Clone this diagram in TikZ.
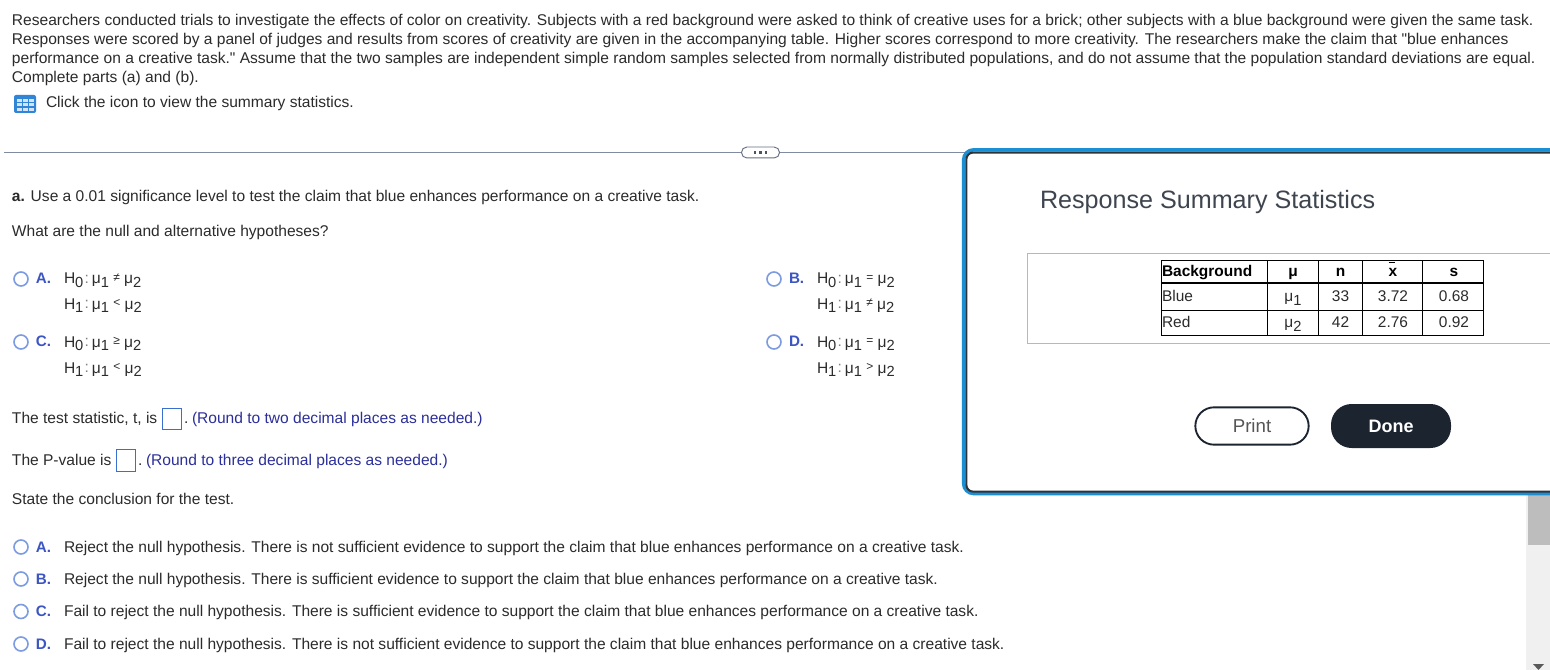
\documentclass[tikz,border=0pt]{standalone}
\usepackage{fontspec}
\setmainfont{Liberation Sans}
\newfontfamily\plainf{Liberation Sans}
\definecolor{bodytxt}{HTML}{2B2B2B}
\definecolor{navytxt}{HTML}{2B2F9A}
\definecolor{optblue}{HTML}{3C55C2}
\definecolor{radio}{HTML}{7C9BE0}
\definecolor{boxblue}{HTML}{3A6FD0}
\definecolor{sep}{HTML}{808AA0}
\definecolor{dlgblue}{HTML}{1C8FD2}
\definecolor{dlgdark}{HTML}{2F3338}
\definecolor{btn}{HTML}{1C2430}
\newcommand{\sbs}[1]{\raisebox{-2.6pt}{\fontsize{11}{12}\selectfont #1}}
\newcommand{\relsym}[1]{\hspace{3.2pt}\raisebox{2pt}{\fontsize{9}{10}\selectfont #1}\hspace{3.2pt}}
\newcommand{\hyp}[2]{H\sbs{#1}\hspace{1pt}{\color{gray}\raisebox{0.1ex}{:}}\hspace{2.2pt}μ\sbs{1}\relsym{#2}μ\sbs{2}}
\tikzset{
  x=0.75pt,y=-0.75pt,
  txt/.style={anchor=base west,inner sep=0pt,outer sep=0pt,text=bodytxt,font=\fontsize{11.67}{13}\selectfont},
  navy/.style={txt,text=navytxt},
  opt/.style={txt,text=optblue,font=\fontsize{11.4}{13}\selectfont\bfseries},
  radiobtn/.style={circle,draw=radio,line width=1.2pt,minimum size=10.5pt,inner sep=0pt,fill=white},
  ansbox/.style={draw=boxblue,line width=0.7pt,fill=white,minimum width=14.5pt,minimum height=16pt,inner sep=0pt},
  tab/.style={txt,anchor=base,font=\fontsize{11.6}{13}\selectfont},
  tabh/.style={tab,font=\fontsize{11.6}{13}\selectfont\bfseries,text=black},
  tabl/.style={line width=0.75pt,draw=black},
}
\begin{document}
\begin{tikzpicture}
\useasboundingbox (0,0) rectangle (1550,670);
\clip (0,0) rectangle (1550,670);
\fill[white] (0,0) rectangle (1550,670);
% intro
\node[txt] (l1) at (12,25.5) {Researchers conducted trials to investigate the effects of color on creativity. Subjects with a red background were asked to think of creative uses for a brick; other subjects with a blue background were given the same task.};
\node[txt] (l2) at (12,44.5) {Responses were scored by a panel of judges and results from scores of creativity are given in the accompanying table. Higher scores correspond to more creativity. The researchers make the claim that {\plainf"}blue enhances};
\node[txt] (l3) at (12,64) {performance on a creative task.{\plainf"} Assume that the two samples are independent simple random samples selected from normally distributed populations, and do not assume that the population standard deviations are equal.};
\node[txt] (l4) at (12,83) {Complete parts (a) and (b).};
% icon
\fill[rounded corners=1.5pt,fill=boxblue!85!cyan] (14,95) rectangle (36,113);
\foreach \cx in {17,23,29}\foreach \cy in {99,103.5,108}{\fill[white!80!boxblue] (\cx,\cy) rectangle ++(4.5,3);}
\node[txt] (click) at (46,108) {Click the icon to view the summary statistics.};
% separator
\draw[sep,line width=0.75pt] (4,152.5) -- (965,152.5);
\node[draw=sep!80!black,fill=white,rounded corners=4pt,line width=0.7pt,minimum width=28.5pt,minimum height=8.2pt,inner sep=0pt] (pill) at (760.5,152.5) {};
\foreach \dx in {755,760.5,766}{\fill[sep!60!black] (\dx-1.4,151) rectangle ++(2.8,3);}
% part a
\node[txt] (a1) at (12,202) {\textbf{a.} Use a 0.01 significance level to test the claim that blue enhances performance on a creative task.};
\node[txt] (a2) at (12,236.5) {What are the null and alternative hypotheses?};
% hypotheses
\node[radiobtn] (ra) at (21,279) {};
\node[opt] (oa) at (36,284) {A.};
\node[txt] (oa0) at (64,284) {\hyp{0}{≠}};
\node[txt] (oa1) at (64,309.5) {\hyp{1}{<}};
\node[radiobtn] (rb) at (774,279) {};
\node[opt] (ob) at (789,284) {B.};
\node[txt] (ob0) at (817,284) {\hyp{0}{=}};
\node[txt] (ob1) at (817,309.5) {\hyp{1}{≠}};
\node[radiobtn] (rc) at (21,342) {};
\node[opt] (oc) at (36,347) {C.};
\node[txt] (oc0) at (64,347.5) {\hyp{0}{≥}};
\node[txt] (oc1) at (64,373.5) {\hyp{1}{<}};
\node[radiobtn] (rd) at (774,342) {};
\node[opt] (od) at (789,347) {D.};
\node[txt] (od0) at (817,347.5) {\hyp{0}{=}};
\node[txt] (od1) at (817,373.5) {\hyp{1}{>}};
% answers
\node[txt] (t1) at (12,423.5) {The test statistic, t, is};
\node[ansbox] (b1) at (172,419) {};
\node[txt] (t1d) at (184,423.5) {.};
\node[navy] (t1n) at (192,423.5) {(Round to two decimal places as needed.)};
\node[txt] (t2) at (12,465.5) {The P-value is};
\node[ansbox] (b2) at (126,460.5) {};
\node[txt] (t2d) at (138,465.5) {.};
\node[navy] (t2n) at (146,465.5) {(Round to three decimal places as needed.)};
\node[txt] (t3) at (12,504.5) {State the conclusion for the test.};
% conclusions
\node[radiobtn] (r1) at (21,547) {};
\node[opt] (c1) at (36,552) {A.};
\node[txt] (c1t) at (64,552) {Reject the null hypothesis. There is not sufficient evidence to support the claim that blue enhances performance on a creative task.};
\node[radiobtn] (r2) at (21,579) {};
\node[opt] (c2) at (36,584) {B.};
\node[txt] (c2t) at (64,584) {Reject the null hypothesis. There is sufficient evidence to support the claim that blue enhances performance on a creative task.};
\node[radiobtn] (r3) at (21,611.5) {};
\node[opt] (c3) at (36,616.5) {C.};
\node[txt] (c3t) at (64,616.5) {Fail to reject the null hypothesis. There is sufficient evidence to support the claim that blue enhances performance on a creative task.};
\node[radiobtn] (r4) at (21,644) {};
\node[opt] (c4) at (36,649) {D.};
\node[txt] (c4t) at (64,649) {Fail to reject the null hypothesis. There is not sufficient evidence to support the claim that blue enhances performance on a creative task.};
% scrollbar
\fill[black!6] (1526,495) rectangle (1550,670);
\fill[black!26] (1528,495) rectangle (1550,545);
\fill[black!65] (1533,664) -- (1544,664) -- (1538.5,670) -- cycle;
% dialog
\draw[dlgblue,line width=2.6pt,fill=white,rounded corners=7.5pt] (963.6,149.8) rectangle (1570,493.6);
\draw[dlgdark,line width=1.5pt,rounded corners=5pt] (966.4,152.6) rectangle (1570,491.6);
\node[txt,text=btn!85!white,font=\fontsize{18.85}{22}\selectfont] (title) at (1040,209) {Response Summary Statistics};
% table frame
\draw[black!28,line width=0.75pt] (1570,253.5) -- (1027.5,253.5) -- (1027.5,343.5) -- (1570,343.5);
\draw[tabl] (1161,260.5) rectangle (1483,336);
\draw[black,line width=1.4pt] (1161,283.3) -- (1483,283.3);
\draw[tabl] (1161,310.5) -- (1483,310.5);
\foreach \tx in {1267.5,1318.5,1362,1422.5}{\draw[tabl] (\tx,260.5) -- (\tx,336);}
\node[tabh,anchor=base west] (h1) at (1162,277) {Background};
\node[tabh] (h2) at (1293,277) {μ};
\node[tabh] (h3) at (1340.5,277) {n};
\node[tabh] (h4) at (1393,277) {\rlap{\rule[10.4pt]{4.8pt}{0.5pt}}x};
\node[tabh] (h5) at (1454,277) {s};
\node[tab,anchor=base west] (r1a) at (1162,302) {Blue};
\node[tab] (r1b) at (1293,302) {μ\sbs{1}};
\node[tab] (r1c) at (1340.5,302) {33};
\node[tab] (r1d) at (1393,302) {3.72};
\node[tab] (r1e) at (1454,302) {0.68};
\node[tab,anchor=base west] (r2a) at (1162,328) {Red};
\node[tab] (r2b) at (1293,328) {μ\sbs{2}};
\node[tab] (r2c) at (1340.5,328) {42};
\node[tab] (r2d) at (1393,328) {2.76};
\node[tab] (r2e) at (1454,328) {0.92};
% buttons
\node[draw=btn,line width=1.4pt,fill=white,rounded corners=14pt,minimum width=85pt,minimum height=28pt,inner sep=0pt,text=bodytxt!80!white,font=\fontsize{14}{16}\selectfont] (print) at (1252,426) {Print};
\node[fill=btn,rounded corners=15.5pt,minimum width=90pt,minimum height=33pt,inner sep=0pt,text=white,font=\fontsize{13.5}{16}\selectfont\bfseries] (done) at (1391,426) {Done};
\end{tikzpicture}
\end{document}
